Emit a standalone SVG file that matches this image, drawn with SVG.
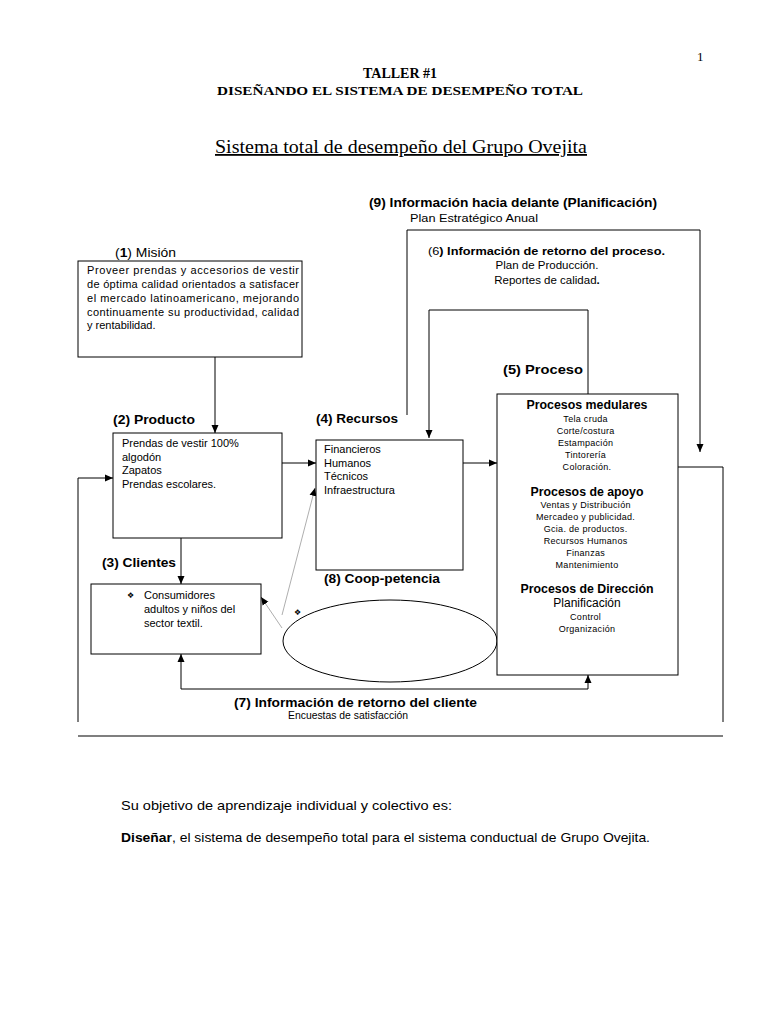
<svg xmlns="http://www.w3.org/2000/svg" width="768" height="1024" viewBox="0 0 768 1024">
<style>
.serif{font-family:"Liberation Serif","Times New Roman",serif;fill:#000}
.sans{font-family:"Liberation Sans",Arial,sans-serif;fill:#000}
.b{font-weight:bold}
.box{fill:#fff;stroke:#000;stroke-width:1}
.ln{fill:none;stroke:#000;stroke-width:1}
.thin{fill:none;stroke:#999;stroke-width:0.8}
.c{text-anchor:middle}
.sm{font-size:9px;letter-spacing:0.3px}
</style>
<defs>
<marker id="ah" markerWidth="8" markerHeight="8" refX="8" refY="4" orient="auto" markerUnits="userSpaceOnUse">
<path d="M0,0.5 L8,4 L0,7.5 z" fill="#000"/>
</marker>
</defs>
<rect width="768" height="1024" fill="#fff"/>

<g id="header">
<text class="serif" x="697" y="61" font-size="13">1</text>
<text class="serif b c" x="400" y="78" font-size="14">TALLER #1</text>
<text class="serif b" x="217" y="95" font-size="13.5" textLength="366" lengthAdjust="spacingAndGlyphs">DISEÑANDO EL SISTEMA DE DESEMPEÑO TOTAL</text>
<text class="serif" x="215" y="153" font-size="18" textLength="372" lengthAdjust="spacingAndGlyphs" text-decoration="underline">Sistema total de desempeño del Grupo Ovejita</text>
</g>

<g id="connectors">
<line class="ln" x1="215" y1="357" x2="215" y2="433" marker-end="url(#ah)"/>
<line class="ln" x1="282" y1="463" x2="316" y2="463" marker-end="url(#ah)"/>
<line class="ln" x1="463" y1="463" x2="497" y2="463" marker-end="url(#ah)"/>
<line class="ln" x1="181" y1="538" x2="181" y2="584" marker-end="url(#ah)"/>
<path class="ln" d="M181,689 V654" marker-end="url(#ah)"/>
<path class="ln" d="M181,689 H588 V675" marker-end="url(#ah)"/>
<path class="ln" d="M407,415 V230 H700 V452" marker-end="url(#ah)"/>
<path class="ln" d="M588,394 V310 H429 V438" marker-end="url(#ah)"/>
<path class="ln" d="M678,467 H723 V722"/>
<path class="ln" d="M78,722 V478 H113" marker-end="url(#ah)"/>
<line class="thin" x1="282" y1="615" x2="315" y2="488" marker-end="url(#ah)"/>
<line class="thin" x1="282" y1="628" x2="261" y2="597" marker-end="url(#ah)"/>
</g>

<g id="label-9">
<text class="sans b" x="369" y="207" font-size="12.5" textLength="288" lengthAdjust="spacingAndGlyphs">(9) Información hacia delante (Planificación)</text>
<text class="sans" x="410" y="222" font-size="11" textLength="128" lengthAdjust="spacingAndGlyphs">Plan Estratégico Anual</text>
</g>

<g id="label-6">
<text class="sans" x="428" y="255" font-size="11.5" textLength="237" lengthAdjust="spacingAndGlyphs">(6<tspan class="b">) Información de retorno del proceso.</tspan></text>
<text class="sans c" x="547" y="269" font-size="11.5">Plan de Producción.</text>
<text class="sans c" x="547" y="284" font-size="11.5">Reportes de calidad<tspan class="b">.</tspan></text>
</g>

<g id="mision">
<text class="sans" x="115" y="257" font-size="13" textLength="61" lengthAdjust="spacingAndGlyphs">(<tspan class="b">1</tspan>) Misión</text>
<rect class="box" x="78" y="261" width="224" height="96"/>
<text class="sans" font-size="11">
<tspan x="87" y="274" textLength="212" lengthAdjust="spacing">Proveer prendas y accesorios de vestir</tspan>
<tspan x="87" y="288" textLength="212" lengthAdjust="spacing">de óptima calidad orientados a satisfacer</tspan>
<tspan x="87" y="302" textLength="212" lengthAdjust="spacing">el mercado latinoamericano, mejorando</tspan>
<tspan x="87" y="316" textLength="212" lengthAdjust="spacing">continuamente su productividad, calidad</tspan>
<tspan x="87" y="329">y rentabilidad.</tspan>
</text>
</g>

<g id="producto">
<text class="sans b" x="113" y="424" font-size="12.5" textLength="82" lengthAdjust="spacingAndGlyphs">(2) Producto</text>
<rect class="box" x="113" y="433" width="169" height="105"/>
<text class="sans" font-size="11">
<tspan x="122" y="447">Prendas de vestir 100%</tspan>
<tspan x="122" y="460.5">algodón</tspan>
<tspan x="122" y="474">Zapatos</tspan>
<tspan x="122" y="487.5">Prendas escolares.</tspan>
</text>
</g>

<g id="recursos">
<text class="sans b" x="316" y="423" font-size="12.5" textLength="82" lengthAdjust="spacingAndGlyphs">(4) Recursos</text>
<rect class="box" x="316" y="440" width="147" height="130"/>
<text class="sans" font-size="11">
<tspan x="324" y="453">Financieros</tspan>
<tspan x="324" y="466.5">Humanos</tspan>
<tspan x="324" y="480">Técnicos</tspan>
<tspan x="324" y="493.5">Infraestructura</tspan>
</text>
</g>

<g id="clientes">
<text class="sans b" x="102" y="567" font-size="12.5" textLength="74" lengthAdjust="spacingAndGlyphs">(3) Clientes</text>
<rect class="box" x="91" y="584" width="170" height="70"/>
<text x="127" y="598" font-size="8" font-family="DejaVu Sans, sans-serif">❖</text>
<text class="sans" font-size="11">
<tspan x="144" y="599">Consumidores</tspan>
<tspan x="144" y="613">adultos y niños del</tspan>
<tspan x="144" y="627">sector textil.</tspan>
</text>
</g>

<g id="coop-petencia">
<text class="sans b" x="324" y="583" font-size="12.5" textLength="116" lengthAdjust="spacingAndGlyphs">(8) Coop-petencia</text>
<ellipse class="box" cx="390" cy="641" rx="107" ry="41"/>
<text x="294" y="615" font-size="8" font-family="DejaVu Sans, sans-serif">❖</text>
</g>

<g id="proceso">
<text class="sans b" x="503" y="374" font-size="12.5" textLength="80" lengthAdjust="spacingAndGlyphs">(5) Proceso</text>
<rect class="box" x="497" y="394" width="181" height="281"/>
<text class="sans b c" x="587" y="409" font-size="12" textLength="121" lengthAdjust="spacingAndGlyphs">Procesos medulares</text>
<text class="sans c sm">
<tspan x="587" y="422">Tela cruda</tspan>
<tspan x="587" y="434">Corte/costura</tspan>
<tspan x="587" y="446">Estampación</tspan>
<tspan x="587" y="458">Tintorería</tspan>
<tspan x="587" y="470">Coloración.</tspan>
</text>
<text class="sans b c" x="587" y="496" font-size="12" textLength="113" lengthAdjust="spacingAndGlyphs">Procesos de apoyo</text>
<text class="sans c sm">
<tspan x="587" y="508">Ventas y Distribución</tspan>
<tspan x="587" y="520">Mercadeo y publicidad.</tspan>
<tspan x="587" y="532">Gcia. de productos.</tspan>
<tspan x="587" y="544">Recursos Humanos</tspan>
<tspan x="587" y="556">Finanzas</tspan>
<tspan x="587" y="568">Mantenimiento</tspan>
</text>
<text class="sans b c" x="587" y="593" font-size="12" textLength="133" lengthAdjust="spacingAndGlyphs">Procesos de Dirección</text>
<text class="sans c" x="587" y="607" font-size="12">Planificación</text>
<text class="sans c sm">
<tspan x="587" y="620">Control</tspan>
<tspan x="587" y="632">Organización</tspan>
</text>
</g>

<g id="label-7">
<text class="sans b" x="234" y="707" font-size="12.5" textLength="243" lengthAdjust="spacingAndGlyphs">(7) Información de retorno del cliente</text>
<text class="sans" x="288" y="719" font-size="10.5" textLength="120" lengthAdjust="spacingAndGlyphs">Encuestas de satisfacción</text>
</g>

<line x1="78" y1="736" x2="723" y2="736" stroke="#555" stroke-width="1.5"/>

<g id="footer">
<text class="sans" x="121" y="810" font-size="13.5" textLength="331" lengthAdjust="spacingAndGlyphs">Su objetivo de aprendizaje individual y colectivo es:</text>
<text class="sans" x="121" y="842" font-size="13.5" textLength="529" lengthAdjust="spacingAndGlyphs"><tspan class="b">Diseñar</tspan>, el sistema de desempeño total para el sistema conductual de Grupo Ovejita.</text>
</g>
</svg>
